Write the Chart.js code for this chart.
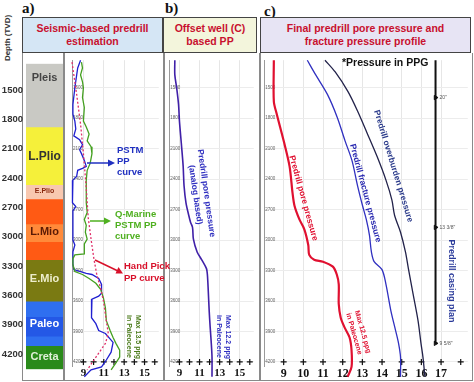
<!DOCTYPE html>
<html>
<head>
<meta charset="utf-8">
<script src="https://cdn.jsdelivr.net/npm/chart.js@4.4.0/dist/chart.umd.min.js"></script>
<style>
  body { margin: 0; width: 474px; height: 382px; position: relative; overflow: hidden; background: #fff;
         font-family: "Liberation Sans", Arial, sans-serif; }
  .abs { position: absolute; }
  .tag { position: absolute; font: bold 15px "Liberation Serif", serif; color: #111; }
  .hdr { position: absolute; top: 17px; height: 34px; border: 1.5px solid #444; color: #c8102e; font-weight: bold;
         font-size: 10.5px; line-height: 13px; text-align: center; display: flex; align-items: center; justify-content: center; }
  .frame { position: absolute; top: 53px; height: 327px; border: 1px solid #8a8a8a; border-top: none; }
  .rot { position: absolute; white-space: nowrap; font-weight: bold; transform-origin: center center; }
  canvas { position: absolute; }
</style>
</head>
<body>
<div class="tag" style="left:22px;top:0px">a)</div>
<div class="tag" style="left:165px;top:0px">b)</div>
<div class="tag" style="left:264px;top:3px">c)</div>

<div class="hdr" style="left:22px;width:139px;background:#d5e6f5">Seismic-based predrill<br>estimation</div>
<div class="hdr" style="left:163px;width:92px;background:#f3f5dc">Offset well (C)<br>based PP</div>
<div class="hdr" style="left:260px;width:209px;background:#e7e4f4">Final predrill pore pressure and<br>fracture pressure profile</div>

<div class="rot" style="left:7px;top:38px;font-size:8px;color:#333;transform:translate(-50%,-50%) rotate(-90deg)">Depth (TVD)</div>

<div class="frame" style="left:22px;width:41px"></div>
<div class="frame" style="left:63px;width:100px"></div>
<div class="frame" style="left:163px;width:95px"></div>
<div class="frame" style="left:260px;width:211px"></div>

<canvas id="lith" width="64" height="323" style="left:0;top:55px"></canvas>
<canvas id="pa" width="100" height="325" style="left:64px;top:55px"></canvas>
<canvas id="pb" width="95" height="325" style="left:164px;top:55px"></canvas>
<canvas id="pc" width="214" height="325" style="left:259px;top:55px"></canvas>

<svg class="abs" style="left:0;top:0" width="474" height="382">
  <line x1="87" y1="163" x2="109" y2="163" stroke="#2030c0" stroke-width="1.5"/>
  <polygon points="115,163 108,159.5 108,166.5" fill="#2030c0"/>
  <line x1="90" y1="221" x2="105" y2="221" stroke="#4fb020" stroke-width="1.5"/>
  <polygon points="111,221 104,217.5 104,224.5" fill="#4fb020"/>
  <line x1="95" y1="260" x2="118" y2="271" stroke="#d8102a" stroke-width="1.5"/>
  <polygon points="123,273.5 115.5,273.5 118.5,267" fill="#d8102a"/>
</svg>

<div class="abs" style="left:117px;top:144px;font-weight:bold;font-size:9.5px;line-height:11px;color:#2030c0">PSTM<br>PP<br>curve</div>
<div class="abs" style="left:115px;top:208px;font-weight:bold;font-size:9.5px;line-height:11px;color:#4fb020">Q-Marine<br>PSTM PP<br>curve</div>
<div class="abs" style="left:124px;top:260px;font-weight:bold;font-size:9.5px;line-height:12px;color:#d8102a">Hand Pick<br>PP curve</div>
<div class="rot" style="left:134px;top:337px;font-size:7px;line-height:9px;color:#4a7a1a;transform:translate(-50%,-50%) rotate(90deg)">Max 13.5 ppg<br>in Paleocene</div>

<div class="rot" style="left:201px;top:194px;font-size:8.5px;line-height:11px;color:#3030c0;text-align:center;transform:translate(-50%,-50%) rotate(82deg)">Predrill pore pressure<br>(analog based)</div>
<div class="rot" style="left:224px;top:337px;font-size:7px;line-height:9px;color:#3030c0;transform:translate(-50%,-50%) rotate(90deg)">Max 12.2 ppg<br>in Paleocene</div>

<div class="abs" style="left:342px;top:56px;font-weight:bold;font-size:10.5px;color:#111">*Pressure in PPG</div>
<div class="rot" style="left:304px;top:198px;font-size:8.5px;color:#e01030;transform:translate(-50%,-50%) rotate(74.5deg)">Predrill pore pressure</div>
<div class="rot" style="left:366px;top:193px;font-size:8.5px;color:#2828b0;transform:translate(-50%,-50%) rotate(75deg)">Predrill fracture pressure</div>
<div class="rot" style="left:394px;top:166px;font-size:8.5px;color:#2a3a8a;transform:translate(-50%,-50%) rotate(73deg)">Predrill overburden pressure</div>
<div class="rot" style="left:359px;top:333px;font-size:7px;line-height:9px;color:#e01030;transform:translate(-50%,-50%) rotate(74deg)">Max 12.5 ppg<br>in Paleocene</div>
<div class="rot" style="left:452px;top:281px;font-size:9px;color:#2a3a9a;transform:translate(-50%,-50%) rotate(90deg)">Predrill casing plan</div>

<script>
// depth axis (TVD)
const depthTicks = [1500, 1800, 2100, 2400, 2700, 3000, 3300, 3600, 3900, 4200];

// lithology column
const lithNames = ["Pleis", "L.Plio", "E.Plio", "L.Mio", "E.Mio", "Paleo", "Creta"];
const lithTop = [1229, 1877, 2468, 2613, 3233, 3659, 4114];
const lithBase = [1877, 2468, 2613, 3233, 3659, 4114, 4356];
const lithLabelDepth = [1374, 2178, 2536, 2952, 3436, 3891, 4230];
const lithColors = ["#c9c9c4", "#f5f03a", "#f8c8b0", "#ff5a14", "#7a7a12", "#2f6ff0", "#2a8a1a"];
const lithText = ["#444", "#333", "#8a2a10", "#5a1a05", "#eeeecc", "#ffffff", "#e0f0d8"];
const lithFont = [11, 12, 7, 11, 11, 11, 11];
// lighter / darker bands inside units
const bandTop = [2875, 3823];
const bandBase = [3049, 4017];
const bandColors = ["#ff8a3a", "#2458e6"];

// panel a) seismic-based curves [ppg, depth]
const qMarine = [[8.81,1248],[8.91,1306],[8.72,1374],[8.91,1442],[9.0,1500],[8.91,1597],[9.09,1694],[9.0,1829],
  [9.28,1887],[9.56,1955],[9.37,2023],[9.75,2081],[9.84,2149],[9.66,2245],[9.37,2313],[9.28,2410],[9.28,2536],
  [9.28,2633],[9.37,2729],[9.09,2797],[9.28,2855],[9.19,2923],[9.37,2991],[9.09,3039],[9.09,3136],[8.16,3146],
  [7.97,3184],[7.97,3242],[8.16,3310],[8.91,3339],[9.56,3378],[10.22,3426],[10.69,3484],[10.97,3572],[11.16,3668],
  [11.25,3794],[11.62,3891],[11.91,3959],[12.19,4017],[12.56,4085],[12.56,4152],[12.19,4210],[11.72,4278]];
const pstm = [[8.72,1229],[8.44,1306],[8.34,1374],[8.16,1500],[7.97,1665],[7.97,1761],[8.16,1829],[8.25,1906],
  [8.06,1974],[8.63,2013],[8.91,2062],[8.63,2110],[8.81,2149],[9.09,2216],[9.28,2274],[8.91,2294],[8.44,2313],
  [8.34,2371],[7.97,2410],[7.97,2536],[7.88,2633],[8.25,2671],[7.97,2710],[7.97,2923],[7.97,3000],[8.16,3049],
  [7.97,3117],[7.97,3233],[8.06,3291],[9.28,3329],[9.84,3339],[10.5,3378],[10.78,3436],[10.78,3523],[10.5,3552],
  [9.84,3581],[9.75,3668],[9.84,3765],[10.22,3823],[10.5,3891],[11.16,3920],[11.91,4007],[11.72,4104],[11.25,4181],
  [10.78,4249],[9.75,4278],[9.09,4346]];
const handPick = [[7.88,1248],[8.34,1568],[8.72,1858],[9.0,2149],[9.28,2487],[9.47,2778],[9.75,2991],[10.03,3184],
  [10.31,3339],[10.69,3475],[10.97,3600],[11.25,3794],[11.44,3920],[11.16,4017],[10.5,4114],[9.84,4210],[9.37,4278]];

// panel b) offset well analog
const offsetPP = [[8.54,1229],[8.54,1374],[8.72,1500],[8.91,1665],[9.0,1829],[9.19,2052],[9.37,2274],[9.46,2468],
  [9.65,2633],[9.93,2758],[10.11,2826],[10.3,2875],[10.39,2991],[10.76,3117],[11.22,3194],[11.69,3281],[11.78,3339],
  [11.87,3504],[11.96,3697],[12.06,3862],[12.15,3988],[12.24,4152],[12.24,4346]];

// panel c) final profile
const porePP = [[8.5,1229],[8.5,1636],[8.65,1761],[9.0,2023],[9.3,2274],[9.45,2536],[9.55,2662],[9.8,2797],
  [10.05,2894],[10.25,3049],[10.3,3146],[10.55,3194],[11.0,3213],[11.5,3262],[11.7,3339],[11.8,3436],[11.8,3630],
  [11.9,3765],[12.1,3862],[12.35,3959],[12.45,4085],[12.45,4249],[12.25,4346]];
const fracPP = [[10.2,1229],[10.63,1374],[11.23,1568],[11.72,1790],[12.12,2023],[12.47,2216],[12.76,2468],[13.01,2662],
  [13.2,2797],[13.36,2952],[13.46,3117],[13.6,3213],[14.0,3291],[14.2,3436],[14.45,3697],[14.69,3891],[14.84,4017],
  [14.94,4152],[14.94,4346]];
const overburden = [[11.1,1229],[11.62,1345],[12.27,1539],[12.76,1732],[13.26,1955],[13.75,2178],[14.2,2410],
  [14.5,2604],[14.64,2758],[14.94,2923],[15.19,3117],[15.34,3281],[15.58,3533],[15.83,3794],[15.98,4017],
  [16.08,4152],[16.18,4346]];
const casingPPG = 16.72;
const casingShoes = [1597, 2875, 4017];
const casingSizes = ['20"', '13 3/8"', '9 5/8"'];

// x tick labels and marker rows
const ticksA = [9, 11, 13, 15];
const ticksB = [9, 11, 13, 15];
const ticksC = [9, 10, 11, 12, 13, 14, 15, 16, 17];
const marksA = [9, 10, 11, 12, 13, 14, 15, 16];
const marksB = [9, 10, 11, 12, 13, 14, 15, 16];
const marksC = [9, 10, 11, 12, 13, 14, 15, 16, 17, 18];
const markDepth = 4200;

const pts = (arr) => arr.map(([x, y]) => ({ x, y }));
const plain = (v) => String(v);

const lithLabels = {
  id: "lithLabels",
  afterDatasetsDraw(chart) {
    const { ctx, chartArea, scales } = chart;
    ctx.save();
    ctx.textAlign = "center";
    ctx.textBaseline = "middle";
    lithNames.forEach((n, i) => {
      ctx.font = `bold ${lithFont[i]}px "Liberation Sans", Arial`;
      ctx.fillStyle = lithText[i];
      ctx.fillText(n, (chartArea.left + chartArea.right) / 2, scales.y.getPixelForValue(lithLabelDepth[i]));
    });
    ctx.restore();
  }
};

new Chart(document.getElementById("lith"), {
  type: "bar",
  data: {
    labels: ["col"],
    datasets: lithNames.map((n, i) => ({
      label: n, data: [[lithTop[i], lithBase[i]]], backgroundColor: lithColors[i],
      borderWidth: 0, grouped: false, barPercentage: 1, categoryPercentage: 1
    })).concat(bandTop.map((t, i) => ({
      label: "band" + i, data: [[t, bandBase[i]]], backgroundColor: bandColors[i],
      borderWidth: 0, grouped: false, barPercentage: 1, categoryPercentage: 1, order: -1
    })))
  },
  options: {
    responsive: false, animation: false, devicePixelRatio: 1,
    layout: { padding: { left: 0, right: 1, top: 0, bottom: 0 } },
    plugins: { legend: { display: false }, tooltip: { enabled: false } },
    scales: {
      x: { display: false },
      y: {
        reverse: true, min: 1229, max: 4356,
        afterBuildTicks: (s) => { s.ticks = depthTicks.map((v) => ({ value: v })); },
        afterFit: (s) => { s.width = 26; },
        grid: { display: false, drawTicks: false }, border: { display: false },
        ticks: { callback: plain, font: { size: 9.5, weight: "bold", family: "'Liberation Sans', Arial" }, color: "#333", padding: 3 }
      }
    }
  },
  plugins: [lithLabels]
});

const casingLabels = {
  id: "casingLabels",
  afterDatasetsDraw(chart) {
    if (chart.canvas.id !== "pc") return;
    const { ctx, scales } = chart;
    ctx.save();
    ctx.font = "5px 'Liberation Sans', Arial";
    ctx.fillStyle = "#555";
    ctx.textBaseline = "middle";
    casingShoes.forEach((d, i) => {
      ctx.fillText(casingSizes[i], scales.x.getPixelForValue(casingPPG) + 4, scales.y.getPixelForValue(d));
    });
    ctx.restore();
  }
};

function panel(id, xmin, xmax, xTicks, marks, yWidth, fontSize, datasets) {
  datasets.push({
    data: marks.map((m) => ({ x: m, y: markDepth })), showLine: false, pointStyle: "cross",
    pointRadius: 3, borderColor: "#111", borderWidth: 1.2, clip: false
  });
  return new Chart(document.getElementById(id), {
    type: "scatter",
    data: { datasets },
    options: {
      responsive: false, animation: false, devicePixelRatio: 1,
      layout: { padding: { left: 0, right: id === "pc" ? 2 : 1, top: 0, bottom: 0 } },
      plugins: { legend: { display: false }, tooltip: { enabled: false } },
      scales: {
        x: {
          type: "linear", min: xmin, max: xmax,
          afterBuildTicks: (s) => { s.ticks = xTicks.map((v) => ({ value: v })); },
          afterFit: (s) => { s.height = 14; },
          grid: { color: "#e6e6e6", drawTicks: false }, border: { display: false },
          ticks: { padding: 1, color: "#111", font: { size: fontSize, weight: "bold", family: "'Liberation Serif', serif" } }
        },
        y: {
          type: "linear", reverse: true, min: 1229, max: 4240,
          afterBuildTicks: (s) => { s.ticks = depthTicks.map((v) => ({ value: v })); },
          afterFit: (s) => { s.width = yWidth; },
          grid: { color: "#ececec", drawTicks: false }, border: { display: true, color: "#9a9a9a" },
          ticks: { callback: plain, mirror: true, padding: 1, color: "#666", font: { size: 4.5 } }
        }
      }
    },
    plugins: [casingLabels]
  });
}

const line = (arr, color, width, extra) => Object.assign({
  data: pts(arr), showLine: true, pointRadius: 0, borderColor: color, borderWidth: width,
  tension: 0, clip: false, fill: false
}, extra || {});

panel("pa", 7.88, 16.4, ticksA, marksA, 8, 11, [
  line(handPick, "#e0306a", 1.3, { borderDash: [2, 2] }),
  line(qMarine, "#44a020", 1.3),
  line(pstm, "#2020d0", 1.3)
]);

panel("pb", 7.98, 16.4, ticksB, marksB, 3, 11, [
  line(offsetPP, "#4020a8", 1.6, { tension: 0.3 })
]);

panel("pc", 8.01, 18.36, ticksC, marksC, 3, 12, [
  line(porePP, "#e01030", 2.2, { tension: 0.3 }),
  line(fracPP, "#3030c0", 1.3, { tension: 0.3 }),
  line(overburden, "#22224a", 1.3, { tension: 0.3 }),
  {
    data: [{ x: casingPPG, y: 1229 }, { x: casingPPG, y: casingShoes[casingShoes.length - 1] }],
    showLine: true, pointRadius: 0, borderColor: "#111", borderWidth: 2, clip: false
  },
  {
    data: casingShoes.map((d) => ({ x: casingPPG, y: d })), showLine: false, pointStyle: "triangle",
    pointRadius: 2.5, backgroundColor: "#111", borderColor: "#111", rotation: 90
  }
]);
</script>
</body>
</html>
